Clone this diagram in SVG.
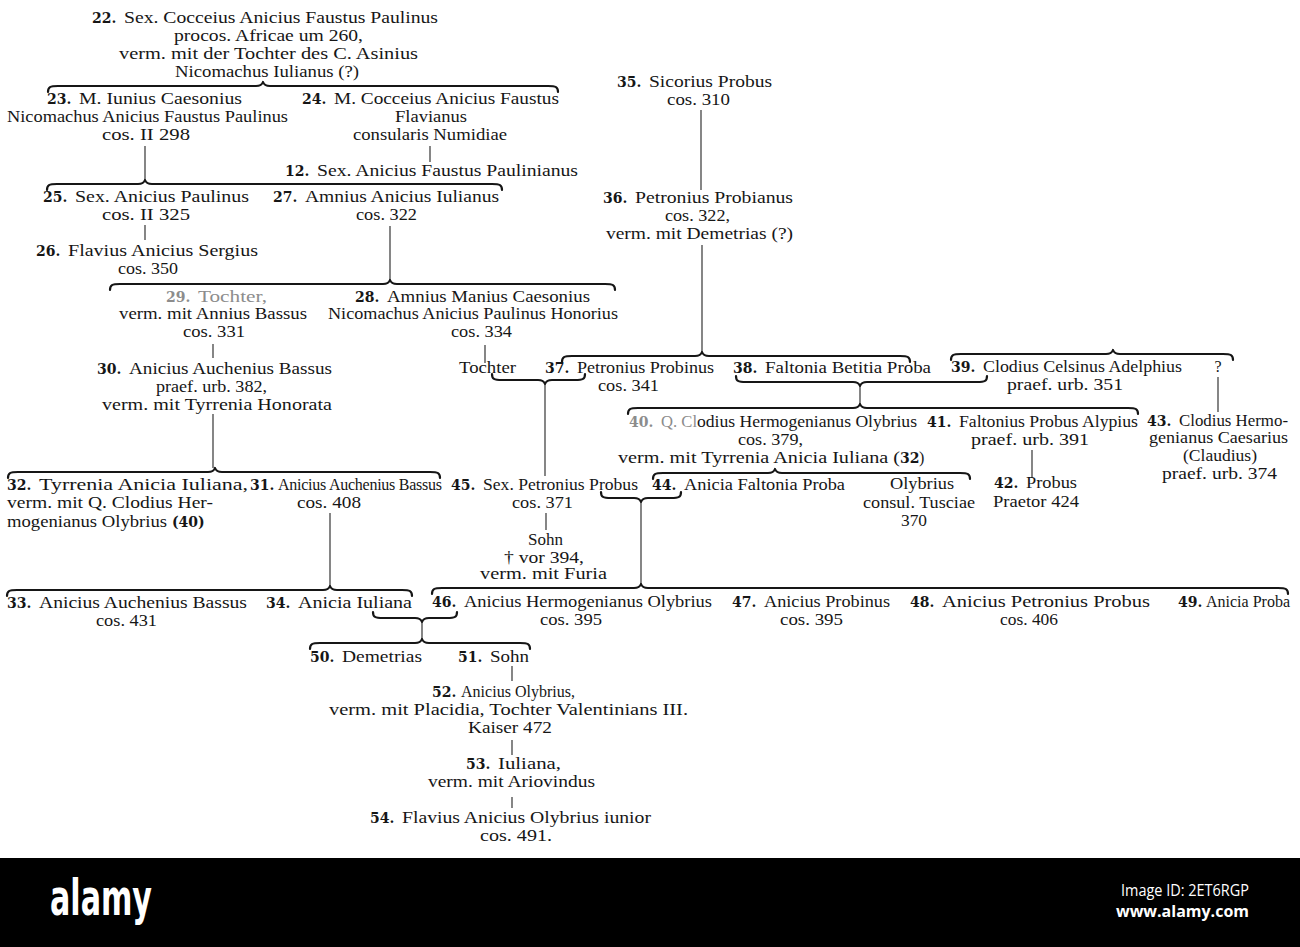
<svg xmlns="http://www.w3.org/2000/svg" width="1300" height="947" viewBox="0 0 1300 947">
<style>
.t{font-family:"Liberation Serif","DejaVu Serif",serif;font-size:16px;fill:#161616}
.b{font-family:"DejaVu Serif","Liberation Serif",serif;font-weight:bold;font-size:14px}
.g{fill:#8c8c8c}
.ln{stroke:#222;stroke-width:1.1;fill:none}
.br{stroke:#161616;stroke-width:2.2;fill:none;stroke-linecap:round;stroke-linejoin:round}
.logo{font-family:"Liberation Sans Narrow","DejaVu Sans Condensed","Liberation Sans",sans-serif;font-weight:bold;font-size:50px;fill:#fff}
.wm{font-family:"Open Sans","Noto Sans",sans-serif;fill:#fff}
</style>
<rect x="0" y="0" width="1300" height="858" fill="#fff"/>
<g id="connectors">
<path class="br" d="M48,92 C48,87 50,86 58,86 L256,86 C260,86 262,85 263,82 C264,85 266,86 270,86 L548,86 C556,86 558,87 558,92"/>
<path class="br" d="M47,190 C47,185 49,184 57,184 L138,184 C142,184 144,183 145,180 C146,183 148,184 152,184 L492,184 C500,184 502,185 502,190"/>
<path class="br" d="M110,290 C110,285 112,284 120,284 L383,284 C387,284 389,283 390,280 C391,283 393,284 397,284 L605,284 C613,284 615,285 615,290"/>
<path class="br" d="M8,478 C8,473 10,472 18,472 L208,472 C212,472 214,471 215,468 C216,471 218,472 222,472 L430,472 C438,472 440,473 440,478"/>
<path class="br" d="M492,374 C492,379 494,380 502,380 L538,380 C542,380 544,381 545,384 C546,381 548,380 552,380 L575,380 C583,380 585,379 585,374"/>
<path class="br" d="M562,362 C562,357 564,356 572,356 L695,356 C699,356 701,355 702,352 C703,355 705,356 709,356 L900,356 C908,356 910,357 910,362"/>
<path class="br" d="M736,376 C736,381 738,382 746,382 L853,382 C857,382 859,383 860,386 C861,383 863,382 867,382 L977,382 C985,382 987,381 987,376"/>
<path class="br" d="M628,414 C628,409 630,408 638,408 L853,408 C857,408 859,407 860,404 C861,407 863,408 867,408 L1128,408 C1136,408 1138,409 1138,414"/>
<path class="br" d="M951,360 C951,355 953,354 961,354 L1106,354 C1110,354 1112,353 1113,350 C1114,353 1116,354 1120,354 L1223,354 C1231,354 1233,355 1233,360"/>
<path class="br" d="M653,479 C653,474 655,473 663,473 L768,473 C772,473 774,472 775,469 C776,472 778,473 782,473 L960,473 C968,473 970,474 970,479"/>
<path class="br" d="M601,492 C601,497 603,498 611,498 L634,498 C638,498 640,499 641,502 C642,499 644,498 648,498 L671,498 C679,498 681,497 681,492"/>
<path class="br" d="M7,596 C7,591 9,590 17,590 L323,590 C327,590 329,589 330,586 C331,589 333,590 337,590 L402,590 C410,590 412,591 412,596"/>
<path class="br" d="M432,594 C432,589 434,588 442,588 L634,588 C638,588 640,587 641,584 C642,587 644,588 648,588 L1278,588 C1286,588 1288,589 1288,594"/>
<path class="br" d="M373,612 C373,617 375,618 383,618 L415,618 C419,618 421,619 422,622 C423,619 425,618 429,618 L447,618 C455,618 457,617 457,612"/>
<path class="br" d="M310,649 C310,644 312,643 320,643 L415,643 C419,643 421,642 422,639 C423,642 425,643 429,643 L520,643 C528,643 530,644 530,649"/>
<line class="ln" x1="430" y1="146" x2="430" y2="162"/>
<line class="ln" x1="145" y1="146" x2="145" y2="180"/>
<line class="ln" x1="145" y1="225" x2="145" y2="240"/>
<line class="ln" x1="390" y1="226" x2="390" y2="280"/>
<line class="ln" x1="701" y1="110" x2="701" y2="190"/>
<line class="ln" x1="702" y1="245" x2="702" y2="352"/>
<line class="ln" x1="213" y1="344" x2="213" y2="358"/>
<line class="ln" x1="485" y1="345" x2="485" y2="363"/>
<line class="ln" x1="213" y1="414" x2="213" y2="468"/>
<line class="ln" x1="545" y1="384" x2="545" y2="476"/>
<line class="ln" x1="860" y1="386" x2="860" y2="404"/>
<line class="ln" x1="1218" y1="377" x2="1218" y2="412"/>
<line class="ln" x1="1032" y1="450" x2="1032" y2="478"/>
<line class="ln" x1="330" y1="513" x2="330" y2="586"/>
<line class="ln" x1="641" y1="502" x2="641" y2="584"/>
<line class="ln" x1="546" y1="513" x2="546" y2="530"/>
<line class="ln" x1="422" y1="622" x2="422" y2="639"/>
<line class="ln" x1="512" y1="666" x2="512" y2="681"/>
<line class="ln" x1="512" y1="740" x2="512" y2="755"/>
<line class="ln" x1="512" y1="797" x2="512" y2="808"/>
</g>
<g id="n22" class="t">
<text class="b" x="92" y="23">22.</text>
<text x="124" y="23" textLength="314" lengthAdjust="spacingAndGlyphs">Sex. Cocceius Anicius Faustus Paulinus</text>
<text x="174" y="41" textLength="189" lengthAdjust="spacingAndGlyphs">procos. Africae um 260,</text>
<text x="119" y="59" textLength="299" lengthAdjust="spacingAndGlyphs">verm. mit der Tochter des C. Asinius</text>
<text x="175" y="77" textLength="184" lengthAdjust="spacingAndGlyphs">Nicomachus Iulianus (?)</text>
</g>
<g id="n23" class="t">
<text class="b" x="47" y="104">23.</text>
<text x="79" y="104" textLength="163" lengthAdjust="spacingAndGlyphs">M. Iunius Caesonius</text>
<text x="7" y="122" textLength="281" lengthAdjust="spacingAndGlyphs">Nicomachus Anicius Faustus Paulinus</text>
<text x="102" y="140" textLength="88" lengthAdjust="spacingAndGlyphs">cos. II 298</text>
</g>
<g id="n24" class="t">
<text class="b" x="302" y="104">24.</text>
<text x="334" y="104" textLength="225" lengthAdjust="spacingAndGlyphs">M. Cocceius Anicius Faustus</text>
<text x="395" y="122" textLength="72" lengthAdjust="spacingAndGlyphs">Flavianus</text>
<text x="353" y="140" textLength="154" lengthAdjust="spacingAndGlyphs">consularis Numidiae</text>
</g>
<g id="n12" class="t">
<text class="b" x="285" y="176">12.</text>
<text x="317" y="176" textLength="261" lengthAdjust="spacingAndGlyphs">Sex. Anicius Faustus Paulinianus</text>
</g>
<g id="n35" class="t">
<text class="b" x="617" y="87">35.</text>
<text x="649" y="87" textLength="123" lengthAdjust="spacingAndGlyphs">Sicorius Probus</text>
<text x="667" y="105" textLength="63" lengthAdjust="spacingAndGlyphs">cos. 310</text>
</g>
<g id="n36" class="t">
<text class="b" x="603" y="203">36.</text>
<text x="635" y="203" textLength="158" lengthAdjust="spacingAndGlyphs">Petronius Probianus</text>
<text x="665" y="221" textLength="65" lengthAdjust="spacingAndGlyphs">cos. 322,</text>
<text x="606" y="239" textLength="187" lengthAdjust="spacingAndGlyphs">verm. mit Demetrias (?)</text>
</g>
<g id="n25" class="t">
<text class="b" x="43" y="202">25.</text>
<text x="75" y="202" textLength="174" lengthAdjust="spacingAndGlyphs">Sex. Anicius Paulinus</text>
<text x="102" y="220" textLength="88" lengthAdjust="spacingAndGlyphs">cos. II 325</text>
</g>
<g id="n27" class="t">
<text class="b" x="273" y="202">27.</text>
<text x="305" y="202" textLength="194" lengthAdjust="spacingAndGlyphs">Amnius Anicius Iulianus</text>
<text x="356" y="220" textLength="61" lengthAdjust="spacingAndGlyphs">cos. 322</text>
</g>
<g id="n26" class="t">
<text class="b" x="36" y="256">26.</text>
<text x="68" y="256" textLength="190" lengthAdjust="spacingAndGlyphs">Flavius Anicius Sergius</text>
<text x="118" y="274" textLength="60" lengthAdjust="spacingAndGlyphs">cos. 350</text>
</g>
<g id="n29" class="t">
<text class="b g" x="166" y="302">29.</text>
<text class="g" x="198" y="302" textLength="69" lengthAdjust="spacingAndGlyphs">Tochter,</text>
<text x="119" y="319" textLength="188" lengthAdjust="spacingAndGlyphs">verm. mit Annius Bassus</text>
<text x="183" y="337" textLength="62" lengthAdjust="spacingAndGlyphs">cos. 331</text>
</g>
<g id="n28" class="t">
<text class="b" x="355" y="302">28.</text>
<text x="387" y="302" textLength="203" lengthAdjust="spacingAndGlyphs">Amnius Manius Caesonius</text>
<text x="328" y="319" textLength="290" lengthAdjust="spacingAndGlyphs">Nicomachus Anicius Paulinus Honorius</text>
<text x="451" y="337" textLength="61" lengthAdjust="spacingAndGlyphs">cos. 334</text>
</g>
<g id="n30" class="t">
<text class="b" x="97" y="374">30.</text>
<text x="129" y="374" textLength="203" lengthAdjust="spacingAndGlyphs">Anicius Auchenius Bassus</text>
<text x="156" y="392" textLength="111" lengthAdjust="spacingAndGlyphs">praef. urb. 382,</text>
<text x="102" y="410" textLength="230" lengthAdjust="spacingAndGlyphs">verm. mit Tyrrenia Honorata</text>
</g>
<g id="nTochter" class="t">
<text x="459" y="373" textLength="57" lengthAdjust="spacingAndGlyphs">Tochter</text>
</g>
<g id="n37" class="t">
<text class="b" x="545" y="373">37.</text>
<text x="577" y="373" textLength="137" lengthAdjust="spacingAndGlyphs">Petronius Probinus</text>
<text x="598" y="391" textLength="61" lengthAdjust="spacingAndGlyphs">cos. 341</text>
</g>
<g id="n38" class="t">
<text class="b" x="733" y="373">38.</text>
<text x="765" y="373" textLength="166" lengthAdjust="spacingAndGlyphs">Faltonia Betitia Proba</text>
</g>
<g id="n39" class="t">
<text class="b" x="951" y="372">39.</text>
<text x="983" y="372" textLength="199" lengthAdjust="spacingAndGlyphs">Clodius Celsinus Adelphius</text>
<text x="1007" y="390" textLength="116" lengthAdjust="spacingAndGlyphs">praef. urb. 351</text>
</g>
<g id="nUnknown" class="t">
<text x="1218" y="372" text-anchor="middle">?</text>
</g>
<g id="n40" class="t">
<text class="b g" x="629" y="427">40.</text>
<text class="g" x="661" y="427" textLength="36" lengthAdjust="spacingAndGlyphs">Q. Cl</text>
<text x="697" y="427" textLength="220" lengthAdjust="spacingAndGlyphs">odius Hermogenianus Olybrius</text>
<text x="738" y="445" textLength="65" lengthAdjust="spacingAndGlyphs">cos. 379,</text>
<text x="618" y="463" textLength="282" lengthAdjust="spacingAndGlyphs">verm. mit Tyrrenia Anicia Iuliana (</text>
<text class="b" x="900" y="463">32</text>
<text x="919" y="463">)</text>
</g>
<g id="n41" class="t">
<text class="b" x="927" y="427">41.</text>
<text x="959" y="427" textLength="179" lengthAdjust="spacingAndGlyphs">Faltonius Probus Alypius</text>
<text x="971" y="445" textLength="118" lengthAdjust="spacingAndGlyphs">praef. urb. 391</text>
</g>
<g id="n42" class="t">
<text class="b" x="994" y="488">42.</text>
<text x="1026" y="488" textLength="51" lengthAdjust="spacingAndGlyphs">Probus</text>
<text x="993" y="507" textLength="86" lengthAdjust="spacingAndGlyphs">Praetor 424</text>
</g>
<g id="n43" class="t">
<text class="b" x="1147" y="426">43.</text>
<text x="1179" y="426" textLength="109" lengthAdjust="spacingAndGlyphs">Clodius Hermo-</text>
<text x="1149" y="443" textLength="139" lengthAdjust="spacingAndGlyphs">genianus Caesarius</text>
<text x="1183" y="461" textLength="74" lengthAdjust="spacingAndGlyphs">(Claudius)</text>
<text x="1162" y="479" textLength="115" lengthAdjust="spacingAndGlyphs">praef. urb. 374</text>
</g>
<g id="n32" class="t">
<text class="b" x="7" y="490">32.</text>
<text x="39" y="490" textLength="209" lengthAdjust="spacingAndGlyphs">Tyrrenia Anicia Iuliana,</text>
<text x="7" y="508" textLength="206" lengthAdjust="spacingAndGlyphs">verm. mit Q. Clodius Her-</text>
<text x="7" y="527" textLength="160" lengthAdjust="spacingAndGlyphs">mogenianus Olybrius</text>
<text class="b" x="172" y="527">(40)</text>
</g>
<g id="n31" class="t">
<text class="b" x="250" y="490">31.</text>
<text x="278" y="490" textLength="164" lengthAdjust="spacing">Anicius Auchenius Bassus</text>
<text x="297" y="508" textLength="64" lengthAdjust="spacingAndGlyphs">cos. 408</text>
</g>
<g id="n45" class="t">
<text class="b" x="451" y="490">45.</text>
<text x="483" y="490" textLength="155" lengthAdjust="spacingAndGlyphs">Sex. Petronius Probus</text>
<text x="512" y="508" textLength="61" lengthAdjust="spacingAndGlyphs">cos. 371</text>
</g>
<g id="n44" class="t">
<text class="b" x="652" y="490">44.</text>
<text x="684" y="490" textLength="161" lengthAdjust="spacingAndGlyphs">Anicia Faltonia Proba</text>
</g>
<g id="nOlybrius" class="t">
<text x="890" y="489" textLength="64" lengthAdjust="spacingAndGlyphs">Olybrius</text>
<text x="863" y="508" textLength="112" lengthAdjust="spacingAndGlyphs">consul. Tusciae</text>
<text x="901" y="526" textLength="26" lengthAdjust="spacingAndGlyphs">370</text>
</g>
<g id="nSohn45" class="t">
<text x="528" y="545" textLength="35" lengthAdjust="spacingAndGlyphs">Sohn</text>
<text x="504" y="563" textLength="80" lengthAdjust="spacingAndGlyphs">† vor 394,</text>
<text x="480" y="579" textLength="127" lengthAdjust="spacingAndGlyphs">verm. mit Furia</text>
</g>
<g id="n33" class="t">
<text class="b" x="7" y="608">33.</text>
<text x="39" y="608" textLength="208" lengthAdjust="spacingAndGlyphs">Anicius Auchenius Bassus</text>
<text x="96" y="626" textLength="61" lengthAdjust="spacingAndGlyphs">cos. 431</text>
</g>
<g id="n34" class="t">
<text class="b" x="266" y="608">34.</text>
<text x="298" y="608" textLength="114" lengthAdjust="spacingAndGlyphs">Anicia Iuliana</text>
</g>
<g id="n46" class="t">
<text class="b" x="432" y="607">46.</text>
<text x="464" y="607" textLength="248" lengthAdjust="spacingAndGlyphs">Anicius Hermogenianus Olybrius</text>
<text x="540" y="625" textLength="62" lengthAdjust="spacingAndGlyphs">cos. 395</text>
</g>
<g id="n47" class="t">
<text class="b" x="732" y="607">47.</text>
<text x="764" y="607" textLength="126" lengthAdjust="spacingAndGlyphs">Anicius Probinus</text>
<text x="780" y="625" textLength="63" lengthAdjust="spacingAndGlyphs">cos. 395</text>
</g>
<g id="n48" class="t">
<text class="b" x="910" y="607">48.</text>
<text x="942" y="607" textLength="208" lengthAdjust="spacingAndGlyphs">Anicius Petronius Probus</text>
<text x="1000" y="625" textLength="58" lengthAdjust="spacingAndGlyphs">cos. 406</text>
</g>
<g id="n49" class="t">
<text class="b" x="1178" y="607">49.</text>
<text x="1206" y="607" textLength="84" lengthAdjust="spacing">Anicia Proba</text>
</g>
<g id="n50" class="t">
<text class="b" x="310" y="662">50.</text>
<text x="342" y="662" textLength="80" lengthAdjust="spacingAndGlyphs">Demetrias</text>
</g>
<g id="n51" class="t">
<text class="b" x="458" y="662">51.</text>
<text x="490" y="662" textLength="39" lengthAdjust="spacingAndGlyphs">Sohn</text>
</g>
<g id="n52" class="t">
<text class="b" x="432" y="697">52.</text>
<text x="461" y="697" textLength="114" lengthAdjust="spacing">Anicius Olybrius,</text>
<text x="329" y="715" textLength="359" lengthAdjust="spacingAndGlyphs">verm. mit Placidia, Tochter Valentinians III.</text>
<text x="468" y="733" textLength="84" lengthAdjust="spacingAndGlyphs">Kaiser 472</text>
</g>
<g id="n53" class="t">
<text class="b" x="466" y="769">53.</text>
<text x="498" y="769" textLength="63" lengthAdjust="spacingAndGlyphs">Iuliana,</text>
<text x="428" y="787" textLength="167" lengthAdjust="spacingAndGlyphs">verm. mit Ariovindus</text>
</g>
<g id="n54" class="t">
<text class="b" x="370" y="823">54.</text>
<text x="402" y="823" textLength="249" lengthAdjust="spacingAndGlyphs">Flavius Anicius Olybrius iunior</text>
<text x="480" y="841" textLength="72" lengthAdjust="spacingAndGlyphs">cos. 491.</text>
</g>
<g id="watermark">
<rect x="0" y="858" width="1300" height="89" fill="#000"/>
<text class="logo" x="50" y="915" textLength="102" lengthAdjust="spacingAndGlyphs">alamy</text>
<text class="wm" x="1121" y="896" font-size="16" textLength="128" lengthAdjust="spacingAndGlyphs">Image ID: 2ET6RGP</text>
<text class="wm" x="1116" y="917" font-size="16" font-weight="bold" textLength="133" lengthAdjust="spacingAndGlyphs">www.alamy.com</text>
</g>
</svg>
